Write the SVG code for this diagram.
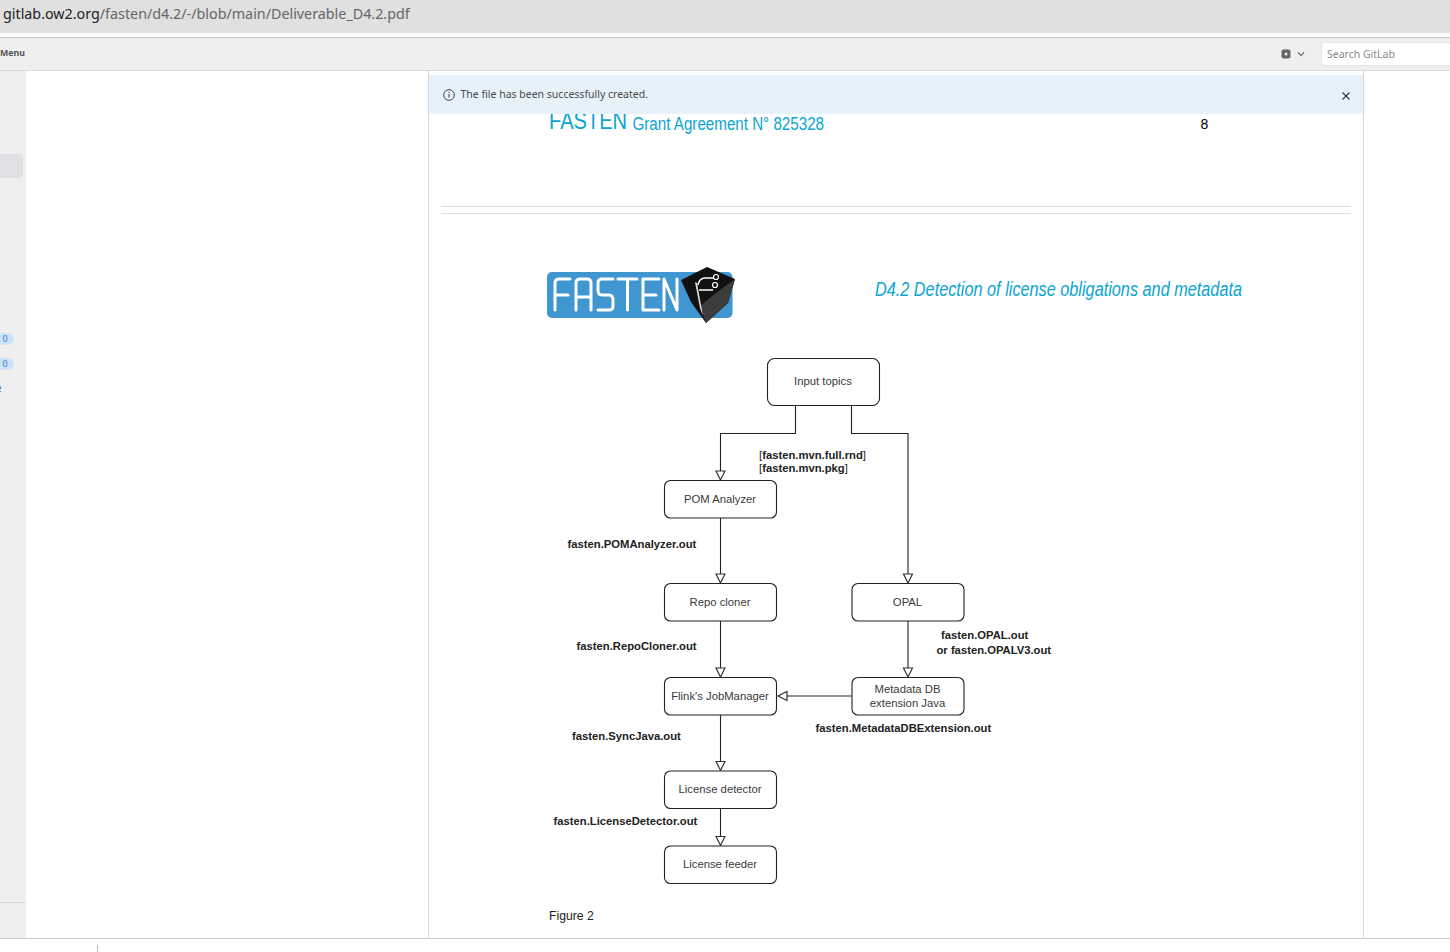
<svg xmlns="http://www.w3.org/2000/svg" width="1450" height="952" viewBox="0 0 1450 952">
<style>
text{font-family:"Liberation Sans",Arial,sans-serif;fill:#333}
.n rect{fill:#fff;stroke:#222;stroke-width:1.1}
.n text{font-size:11.3px;text-anchor:middle;fill:#3a3a3a}
.l{font-size:11.25px;font-weight:bold;fill:#222}
.l .r{font-weight:normal}
.c{fill:none;stroke:#222;stroke-width:1.1;marker-end:url(#a)}
</style>
<defs>
<marker id="a" markerUnits="userSpaceOnUse" markerWidth="13" markerHeight="13" refX="10" refY="5.500" orient="auto">
<path d="M1 1L10 5.500L1 10Z" fill="#fff" stroke="#333" stroke-width="1.200"/>
</marker>
</defs>
<rect width="1450" height="952" fill="#fff"/>
<g id="chrome">
<rect width="1450" height="33" fill="#e0e0e0"/>
<rect y="37" width="1450" height="34" fill="#efefef"/>
<rect y="37" width="1450" height="1.2" fill="#ccc"/>
<rect y="70" width="1450" height="1" fill="#dcdcdc"/>
<rect y="71" width="26" height="867" fill="#efefef"/>
<rect x="-6" y="154" width="29" height="24" rx="3" fill="#e1e1e5"/>
<rect x="0" y="902" width="26" height="1" fill="#d8d8d8"/>
<rect y="938" width="1450" height="1" fill="#ccc"/>
<rect x="97" y="945" width="1" height="7" fill="#bbb"/>
<text x="3" y="19" font-size="14.3" style="font-family:'Noto Sans',sans-serif"><tspan fill="#222">gitlab.ow2.org</tspan><tspan fill="#666">/fasten/d4.2/-/blob/main/Deliverable_D4.2.pdf</tspan></text>
<text x="0" y="56" font-size="8.800" font-weight="bold" style="font-family:'Noto Sans',sans-serif;fill:#555">Menu</text>
<rect x="1281.500" y="49.500" width="9" height="9" rx="2" fill="#666"/>
<circle cx="1286" cy="54" r="1.500" fill="#eee"/>
<path d="M1298 52.500L1301 55.500L1304 52.500" fill="none" stroke="#666" stroke-width="1.100"/>
<rect x="1321.500" y="42.500" width="140" height="23" rx="2" fill="#fff" stroke="#e5e5e5"/>
<text x="1327" y="58" font-size="10.500" style="font-family:'Noto Sans',sans-serif;fill:#8a8a8a">Search GitLab</text>
<rect x="-8" y="333" width="22" height="11.500" rx="5.700" fill="#cbe2f9"/>
<rect x="-8" y="358" width="22" height="11.500" rx="5.700" fill="#cbe2f9"/>
<text x="5" y="342" font-size="9" text-anchor="middle" style="font-family:'Noto Sans',sans-serif;fill:#4a7fc0">0</text>
<text x="5" y="367" font-size="9" text-anchor="middle" style="font-family:'Noto Sans',sans-serif;fill:#4a7fc0">0</text>
<text x="-4" y="392" font-size="10" style="font-family:'Noto Sans',sans-serif;fill:#3a6fb0">e</text>
<rect x="428" y="71" width="1" height="867" fill="#d8d8d8"/>
<rect x="1363" y="71" width="1" height="867" fill="#d8d8d8"/>
</g>
<g id="page">
<text x="549" y="129" font-size="23" textLength="78" lengthAdjust="spacingAndGlyphs" style="fill:#0aa5d2">FASTEN</text>
<text x="632.500" y="129.500" font-size="18" textLength="191.500" lengthAdjust="spacingAndGlyphs" style="fill:#0aa5d2">Grant Agreement N° 825328</text>
<text x="1200.500" y="129" font-size="14" style="fill:#000">8</text>
<rect x="441" y="206" width="910" height="1" fill="#ddd"/>
<rect x="441" y="213" width="910" height="1" fill="#ddd"/>
<text x="875" y="295.500" font-size="20" font-style="italic" textLength="367" lengthAdjust="spacingAndGlyphs" style="fill:#0aa5d2">D4.2 Detection of license obligations and metadata</text>
<text x="549" y="920" font-size="12.2" style="fill:#222">Figure 2</text>
</g>
<g id="banner">
<rect x="429" y="75" width="934" height="39" fill="#e7f1fa"/>
<circle cx="449" cy="95" r="5.300" fill="none" stroke="#444" stroke-width="1"/>
<rect x="448.500" y="94" width="1.100" height="3.500" fill="#444"/>
<rect x="448.500" y="91.800" width="1.100" height="1.100" fill="#444"/>
<text x="460.500" y="98" font-size="10.500" style="font-family:'Noto Sans',sans-serif;fill:#4a4a4a">The file has been successfully created.</text>
<path d="M1342.500 92.500L1349.500 99.500M1349.500 92.500L1342.500 99.500" stroke="#333" stroke-width="1.100"/>
</g>
<g id="logo">
<rect x="547" y="272" width="185.500" height="46" rx="5" fill="#4096d0"/>
<g fill="none" stroke="#fff" stroke-width="3" stroke-linecap="round" stroke-linejoin="round">
<path d="M555 310V283Q555 279 559 279H570M555 295H568"/>
<path d="M576 310V283Q576 279 580 279H587Q591 279 591 283V310M576 297H591"/>
<path d="M613 279H602Q598 279 598 283V290Q598 295 602 295H609Q613 295 613 300V306Q613 310 609 310H598"/>
<path d="M618 279H637M627.500 279V310"/>
<path d="M659 279H643V310H659M643 295H656"/>
<path d="M664 310V279L677 310V279"/>
</g>
<path d="M707 267L735 279L728 303L706 323L691 302L681 280Z" fill="#111"/>
<path d="M700 306L706 323L728 303L735 279L712 296Z" fill="#3c3c3c"/>
<path d="M695 282L700 308L703 316L697 283Z" fill="#ddd"/>
<path d="M698 285Q699 279 704 278H714M699 290H713" fill="none" stroke="#fff" stroke-width="1.500"/>
<circle cx="716" cy="277" r="2.500" fill="none" stroke="#fff" stroke-width="1.200"/>
<circle cx="715" cy="285" r="2.500" fill="none" stroke="#fff" stroke-width="1.200"/>
</g>
<g id="connectors">
<path class="c" d="M795.500 405.500V433.500H720.500V480"/>
<path class="c" d="M851.500 405.500V433.500H908V583"/>
<path class="c" d="M720.500 518V583"/>
<path class="c" d="M720.500 621V677"/>
<path class="c" d="M908 621V677"/>
<path class="c" d="M851.500 696H778"/>
<path class="c" d="M720.500 715V770.500"/>
<path class="c" d="M720.500 808.500V845.500"/>
</g>
<g id="labels">
<text class="l" x="759" y="459"><tspan class="r">[</tspan>fasten.mvn.full.rnd<tspan class="r">]</tspan></text>
<text class="l" x="759" y="472"><tspan class="r">[</tspan>fasten.mvn.pkg<tspan class="r">]</tspan></text>
<text class="l" x="567.500" y="548">fasten.POMAnalyzer.out</text>
<text class="l" x="576.500" y="650">fasten.RepoCloner.out</text>
<text class="l" x="941" y="639">fasten.OPAL.out</text>
<text class="l" x="936.500" y="654">or fasten.OPALV3.out</text>
<text class="l" x="572" y="740">fasten.SyncJava.out</text>
<text class="l" x="815.500" y="732">fasten.MetadataDBExtension.out</text>
<text class="l" x="553.500" y="824.500">fasten.LicenseDetector.out</text>
</g>
<g id="input-topics" class="n"><rect x="767.500" y="358.500" width="112" height="47" rx="7"/><text x="823" y="385">Input topics</text></g>
<g id="pom-analyzer" class="n"><rect x="664.500" y="480.500" width="112" height="37.500" rx="6"/><text x="720" y="503">POM Analyzer</text></g>
<g id="repo-cloner" class="n"><rect x="664.500" y="583.500" width="112" height="37.500" rx="6"/><text x="720" y="605.500">Repo cloner</text></g>
<g id="opal" class="n"><rect x="852" y="583.500" width="112" height="37.500" rx="6"/><text x="907.500" y="605.500">OPAL</text></g>
<g id="flink-jobmanager" class="n"><rect x="664.500" y="677.500" width="112" height="37.500" rx="6"/><text x="720" y="699.500">Flink's JobManager</text></g>
<g id="metadata-db" class="n"><rect x="852" y="677.500" width="112" height="37.500" rx="6"/><text x="907.500" y="692.700">Metadata DB</text><text x="907.500" y="706.700">extension Java</text></g>
<g id="license-detector" class="n"><rect x="664.500" y="771" width="112" height="37.500" rx="6"/><text x="720" y="793">License detector</text></g>
<g id="license-feeder" class="n"><rect x="664.500" y="846" width="112" height="37.500" rx="6"/><text x="720" y="868">License feeder</text></g>
</svg>
